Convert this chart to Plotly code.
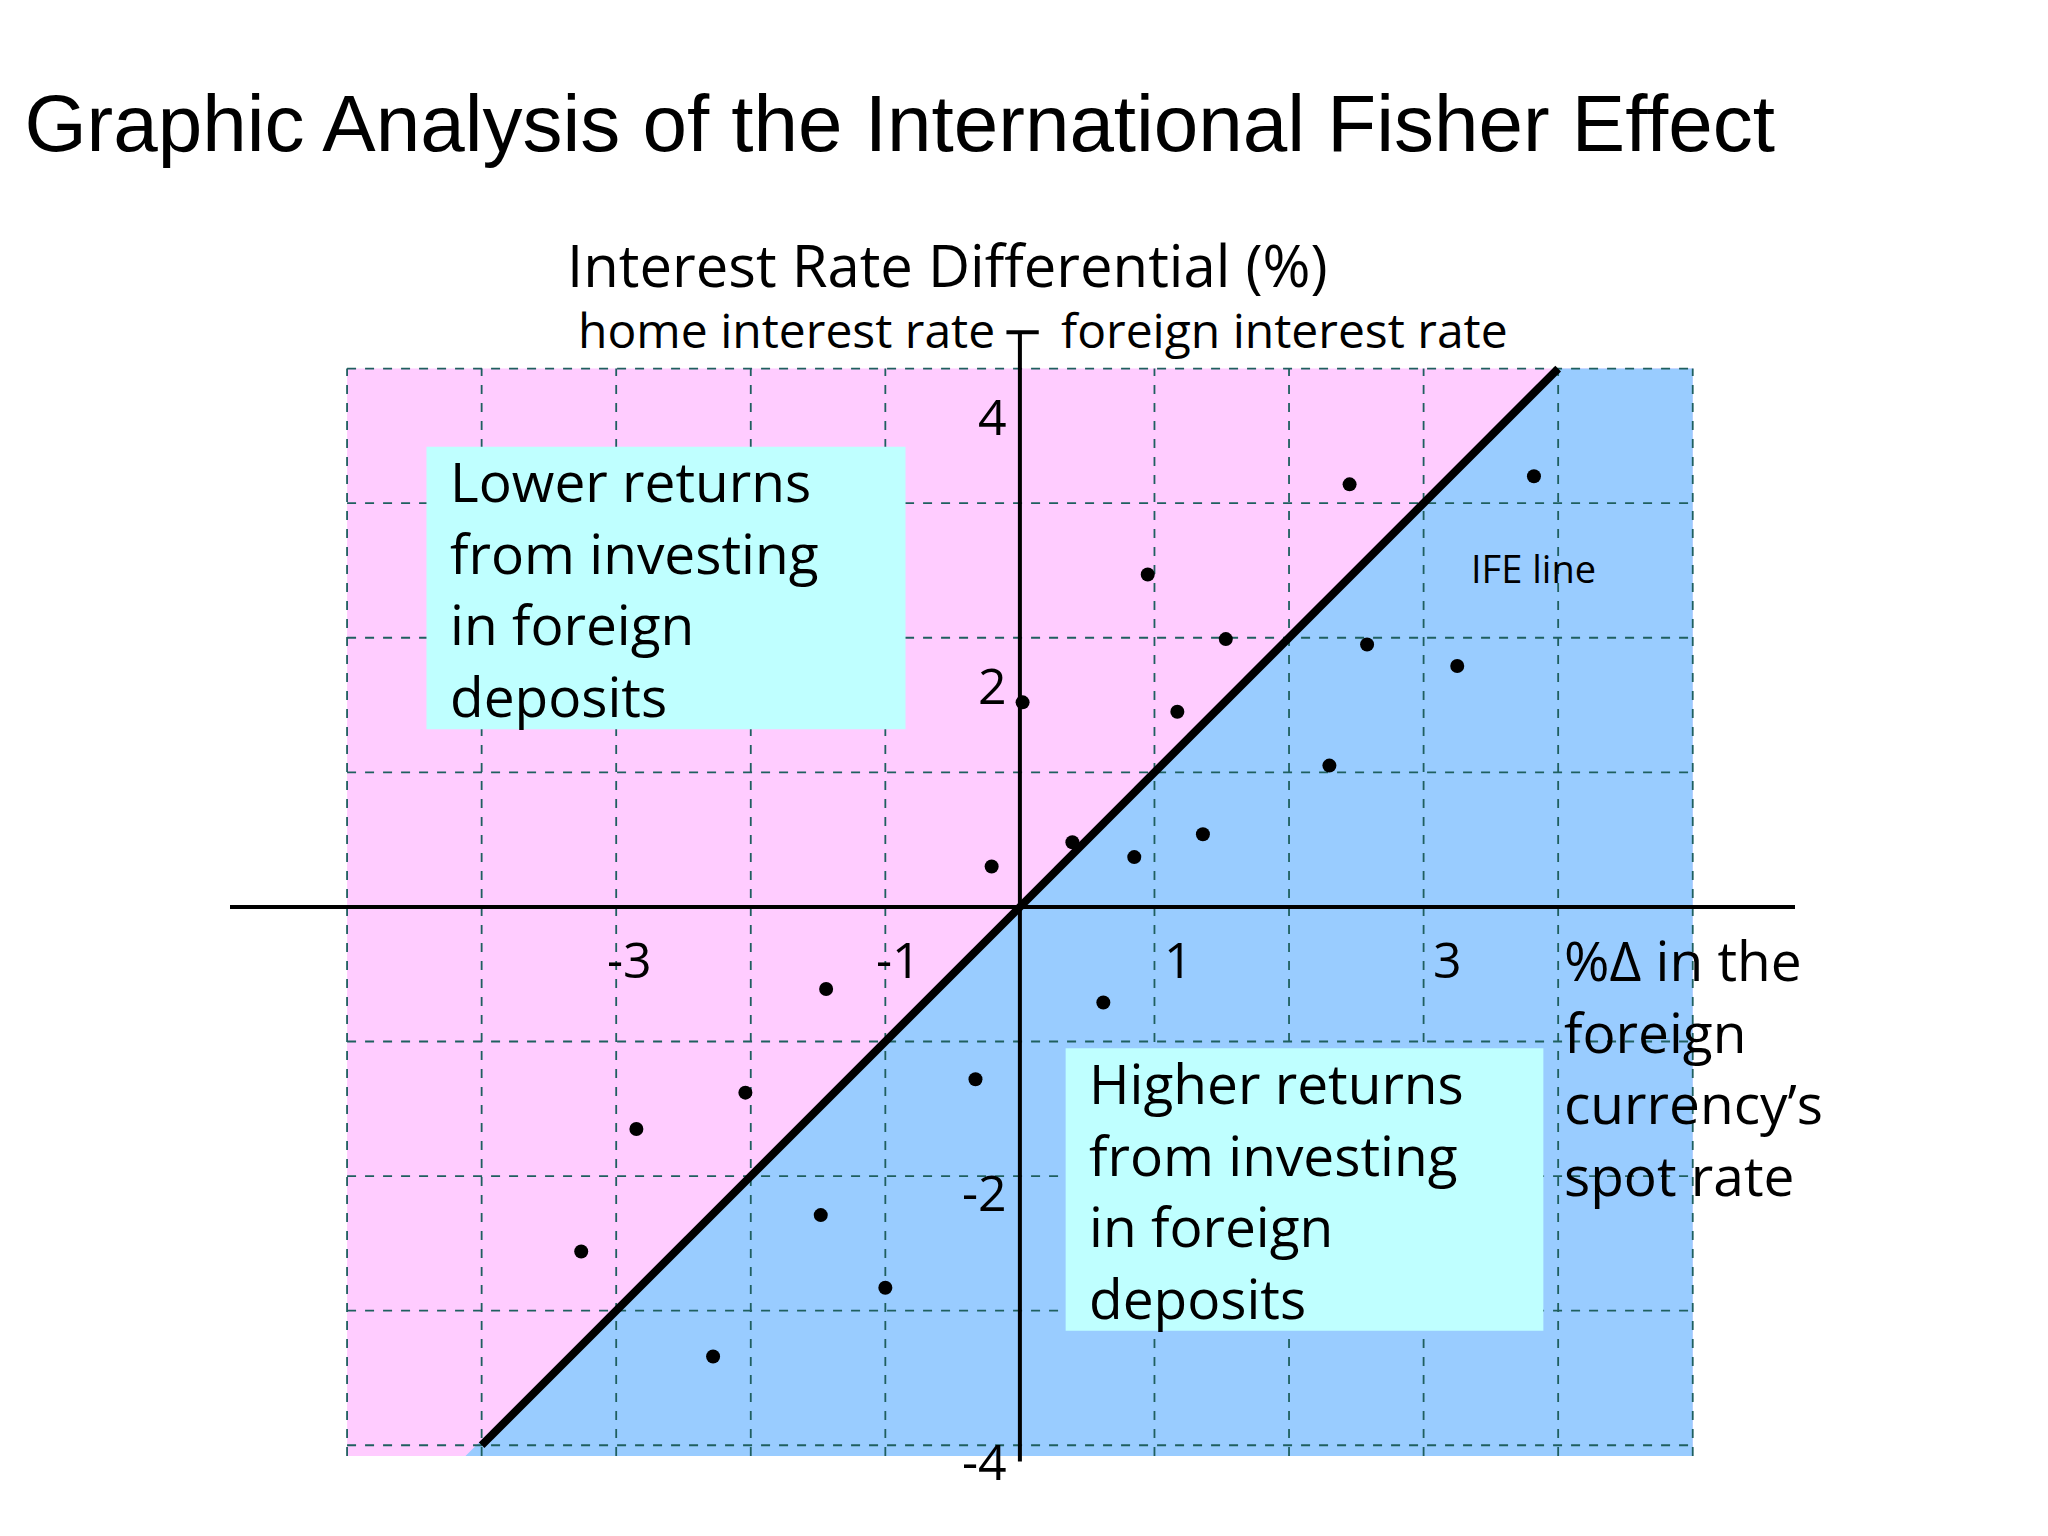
import plotly.graph_objects as go

pts_x = [2.45, 3.82, 0.95, 1.53, 2.58, 3.25, 0.02, 1.17, 2.30, 1.36, 0.39, 0.85, -0.21,
         -1.44, 0.62, -0.33, -2.04, -2.85, -1.48, -3.26, -1.00, -2.28]
pts_y = [3.14, 3.20, 2.47, 1.99, 1.95, 1.79, 1.52, 1.45, 1.05, 0.54, 0.48, 0.37, 0.30,
         -0.61, -0.71, -1.28, -1.38, -1.65, -2.29, -2.56, -2.83, -3.34]
ife_x = [-4, 4]
ife_y = [-4, 4]
x_ticks = [-3, -1, 1, 3]
x_tick_labels = ["-3", "-1", "1", "3"]
y_ticks = [4, 2, -2, -4]
y_tick_labels = ["4", "2", "-2", "-4"]

F = "Open Sans"
fig = go.Figure()
shapes = []
shapes.append(dict(type="rect", x0=-5, x1=5, y0=-4.08, y1=4, fillcolor="#FFCCFF", line_width=0, layer="below"))
shapes.append(dict(type="path", path="M -4.12,-4.08 L 4,4 L 5,4 L 5,-4.08 Z", fillcolor="#99CCFF", line_width=0, layer="below"))
for gx in range(-5, 6):
    shapes.append(dict(type="line", x0=gx, x1=gx, y0=-4.08, y1=4, line=dict(color="#1F5F5F", width=1.8, dash="dash"), layer="below"))
for gy in range(-4, 5):
    shapes.append(dict(type="line", x0=-5, x1=5, y0=gy, y1=gy, line=dict(color="#1F5F5F", width=1.8, dash="dash"), layer="below"))
shapes.append(dict(type="rect", x0=-4.41, x1=-0.85, y0=1.32, y1=3.42, fillcolor="#BFFFFF", line_width=0))
shapes.append(dict(type="rect", x0=0.34, x1=3.89, y0=-3.15, y1=-1.05, fillcolor="#BFFFFF", line_width=0))
shapes.append(dict(type="line", x0=-5.87, x1=5.76, y0=0, y1=0, line=dict(color="black", width=4)))
shapes.append(dict(type="line", x0=0, x1=0, y0=-4.12, y1=4.27, line=dict(color="black", width=4)))
shapes.append(dict(type="line", x0=-0.1, x1=0.14, y0=4.27, y1=4.27, line=dict(color="black", width=4)))
fig.update_layout(shapes=shapes)

fig.add_trace(go.Scatter(x=ife_x, y=ife_y, mode="lines", line=dict(color="black", width=8), hoverinfo="skip"))
fig.add_trace(go.Scatter(x=pts_x, y=pts_y, mode="markers", marker=dict(color="black", size=14)))

ann = []
def A(x, y, t, size, xa="center", ya="middle", align="left"):
    ann.append(dict(x=x, y=y, text=t, showarrow=False, xanchor=xa, yanchor=ya, align=align,
                    font=dict(family=F, size=size, color="black")))

for v, t in zip(x_ticks, x_tick_labels):
    A(v + (0.1 if v < 0 else 0.18), -0.39, t, 50)
for v, t in zip(y_ticks, y_tick_labels):
    A(-0.2 if v > 0 else -0.26, v - 0.35 if v > 0 else v - 0.12, t, 50)
A(-3.38, 4.77, "Interest Rate Differential (%)", 58, xa="left")
A(-0.17, 4.29, "home interest rate", 48, xa="right")
A(0.29, 4.29, "foreign interest rate", 48, xa="left")
A(3.82, 2.52, "IFE line", 38)
A(-4.25, 2.37, "Lower returns<br>from investing<br>in foreign<br>deposits", 55, xa="left")
A(0.5, -2.1, "Higher returns<br>from investing<br>in foreign<br>deposits", 55, xa="left")
A(4.03, -0.1, "%\u0394 in the<br>foreign<br>currency\u2019s<br>spot rate", 55, xa="left", ya="top")

fig.update_layout(
    annotations=ann,
    width=2048, height=1536,
    margin=dict(l=222, r=261, t=226, b=18),
    paper_bgcolor="white", plot_bgcolor="white",
    showlegend=False,
    xaxis=dict(range=[-5.87, 5.76], visible=False),
    yaxis=dict(range=[-4.6, 5.0], visible=False),
    title=dict(text="Graphic Analysis of the International Fisher Effect", x=0.008, xanchor="left",
               xref="container", y=1 - 115 / 1536, yanchor="middle",
               font=dict(family="Liberation Sans", size=80, color="black")),
)
fig.write_html("out.html")
